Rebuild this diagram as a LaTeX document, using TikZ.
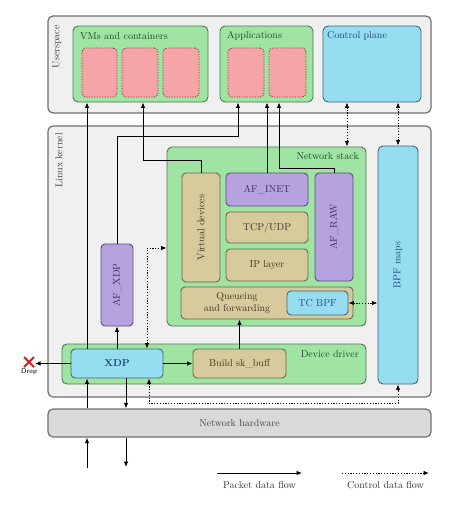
\documentclass[tikz,border=0pt]{standalone}
\usetikzlibrary{arrows.meta,positioning,calc,shapes.misc}
\definecolor{PaleGray}{RGB}{240,240,240}
\definecolor{EdgeGray}{RGB}{112,112,112}
\definecolor{HwGray}{RGB}{217,217,217}
\definecolor{SoftGreen}{RGB}{160,228,164}
\definecolor{GreenEdge}{RGB}{78,118,82}
\definecolor{GreenText}{RGB}{30,74,36}
\definecolor{SoftPink}{RGB}{245,164,168}
\definecolor{PinkEdge}{RGB}{130,62,62}
\definecolor{SoftBlue}{RGB}{150,221,242}
\definecolor{BlueEdge}{RGB}{62,104,120}
\definecolor{BlueText}{RGB}{30,72,120}
\definecolor{SoftTan}{RGB}{215,202,156}
\definecolor{TanEdge}{RGB}{110,102,70}
\definecolor{TanText}{RGB}{58,51,33}
\definecolor{SoftPurple}{RGB}{182,162,222}
\definecolor{PurpleEdge}{RGB}{92,74,128}
\definecolor{PurpleText}{RGB}{60,44,106}
\definecolor{DropRed}{RGB}{220,30,30}
\tikzset{
  zone/.style={draw=EdgeGray,fill=PaleGray,line width=1.2pt,rounded corners=5pt,
    inner sep=0pt,text=black!75},
  group/.style={draw=GreenEdge,fill=SoftGreen,line width=0.9pt,rounded corners=5pt,
    inner sep=0pt},
  guest/.style={draw=PinkEdge,fill=SoftPink,dash pattern=on 1.2pt off 1.4pt,
    line width=0.9pt,rounded corners=4pt,minimum width=36pt,minimum height=49pt,
    inner sep=0pt},
  layer/.style={draw=TanEdge,fill=SoftTan,text=TanText,line width=0.9pt,
    rounded corners=4pt,inner sep=0pt},
  socket/.style={draw=PurpleEdge,fill=SoftPurple,text=PurpleText,line width=0.9pt,
    rounded corners=4pt,inner sep=0pt},
  bpf/.style={draw=BlueEdge,fill=SoftBlue,text=BlueText,line width=0.9pt,
    rounded corners=4pt,inner sep=0pt},
  title/.style={text=GreenText,inner sep=0pt},
  side/.style={rotate=90,anchor=east,inner sep=0pt,text=black!75},
  flow/.style={->,line width=0.9pt},
  ctrl/.style={<->,line width=0.9pt,dash pattern=on 1.2pt off 1.6pt}
}

\begin{document}
\begin{tikzpicture}[x=1pt,y=-1pt,>={Latex[length=5.5pt,width=4.5pt]}]
\useasboundingbox (0,0) rectangle (474,506);

% outer areas
\node[zone,minimum width=383pt,minimum height=97pt] (user) at (239.5,64.5) {};
\node[zone,minimum width=383pt,minimum height=271pt] (kernel) at (239.5,261.5) {};
\node[zone,fill=HwGray,minimum width=383pt,minimum height=28pt] (hw) at (239.5,423)
  {Network hardware};
\node[side] (userlbl) at (57,25) {Userspace};
\node[side] (kernlbl) at (59,133) {Linux kernel};

% userspace
\node[group,minimum width=135pt,minimum height=76pt] (vms) at (140.5,64) {};
\node[title,anchor=west] (vmstitle) at (80,36) {VMs and containers};
\node[guest,minimum width=35pt] (vm1) at (99.5,72.5) {};
\node[guest] (vm2) at (140,72.5) {};
\node[guest] (vm3) at (181,72.5) {};

\node[group,minimum width=93pt,minimum height=76pt] (apps) at (266.5,64) {};
\node[title,anchor=west] (appstitle) at (227,36) {Applications};
\node[guest] (app1) at (246,72.5) {};
\node[guest,minimum width=37pt] (app2) at (287.5,72.5) {};

\node[bpf,rounded corners=5pt,minimum width=98pt,minimum height=76pt] (ctrl)
  at (372,64) {};
\node[title,text=BlueText,anchor=west] (ctrltitle) at (327,36) {Control plane};

% network stack
\node[group,minimum width=199pt,minimum height=179pt] (stack) at (266.5,236.5) {};
\node[title,anchor=east] (stacktitle) at (359,156) {Network stack};
\node[layer,rotate=90,minimum width=109pt,minimum height=38pt] (vdev)
  at (201,227.5) {Virtual devices};
\node[socket,minimum width=82pt,minimum height=33pt] (afinet) at (267,189.5) {AF\_INET};
\node[layer,minimum width=82pt,minimum height=31pt] (tcp) at (267,227.5) {TCP/UDP};
\node[layer,minimum width=82pt,minimum height=32pt] (ip) at (267,265) {IP layer};
\node[socket,rotate=90,minimum width=108pt,minimum height=38pt] (afraw)
  at (334,227) {AF\_RAW};
\node[layer,minimum width=172pt,minimum height=32pt] (queue) at (267,303) {};
\node[text=TanText,align=center,inner sep=0pt] (queuetext) at (237,303)
  {Queueing\\and forwarding};
\node[bpf,minimum width=61pt,minimum height=24pt] (tcbpf) at (317.5,303) {TC BPF};

% device driver
\node[group,minimum width=304pt,minimum height=40pt] (driver) at (214,364) {};
\node[title,anchor=east] (drivertitle) at (359,354) {Device driver};
\node[bpf,font=\bfseries,minimum width=92pt,minimum height=29pt] (xdp)
  at (117,363.5) {XDP};
\node[layer,minimum width=93pt,minimum height=29pt] (build) at (239.5,363.5)
  {Build sk\_buff};
\node[socket,rotate=90,minimum width=82pt,minimum height=32pt] (afxdp)
  at (117,285) {AF\_XDP};
\node[bpf,rotate=90,rounded corners=5pt,minimum width=238pt,minimum height=40pt]
  (maps) at (398,265) {BPF maps};

\node[cross out,draw=DropRed,line width=2pt,minimum size=8pt,inner sep=0pt,
  label={[font=\sffamily\bfseries\scriptsize,text=black!70,inner sep=1.5pt]below:Drop}]
  (drop) at (29,362) {};

% packet data flow
\coordinate (rxin) at (87,468);
\coordinate (txout) at (126,467);
\draw[flow] (rxin) -- (rxin |- hw.south);
\draw[flow] (rxin |- hw.north) -- (rxin |- xdp.south);
\draw[flow] (rxin |- xdp.north) -- (rxin |- vms.south);
\draw[flow] (txout |- xdp.south) -- (txout |- hw.north);
\draw[flow] (txout |- hw.south) -- (txout);
\draw[flow] (xdp.west) -- (xdp.west -| 35,0);
\draw[flow] (xdp.east) -- (build.west);
\draw[flow] (xdp.north) -- (afxdp.west);
\draw[flow] (build.north) -- (build.north |- queue.south);
\draw[flow] (vdev.east) -- ++(0,-12) -| ($(vms.south)+(2.5,0)$);
\draw[flow] (afxdp.east) -- ++(0,-107) -| ($(apps.south)+(-28.5,0)$);
\draw[flow] (afinet.north) -- (afinet.north |- apps.south);
\draw[flow] (afraw.east) -- ++(0,-4) -| ($(apps.south)+(12.5,0)$);

% control data flow
\draw[ctrl] ($(stack.north)+(80.5,0)$) -- ($(ctrl.south)+(-25,0)$);
\draw[ctrl] (maps.east) -- (maps.east |- ctrl.south);
\draw[ctrl] (tcbpf.east) -- (tcbpf.east -| maps.north);
\draw[ctrl] ($(xdp.south)+(32,0)$) -- ++(0,25) -| (maps.west);
\draw[ctrl] ($(xdp.north)+(30,0)$) |- ($(stack.west)+(0,11.5)$);

% legend
\coordinate (pktA) at (217,473);
\coordinate (pktB) at (302,473);
\coordinate (ctlA) at (342,473);
\coordinate (ctlB) at (429,473);
\draw[flow] (pktA) -- (pktB)
  node[midway,below=5pt,text=black!80] (pktlbl) {Packet data flow};
\draw[ctrl,->] (ctlA) -- (ctlB)
  node[midway,below=5pt,text=black!80] (ctllbl) {Control data flow};

\end{tikzpicture}
\end{document}
